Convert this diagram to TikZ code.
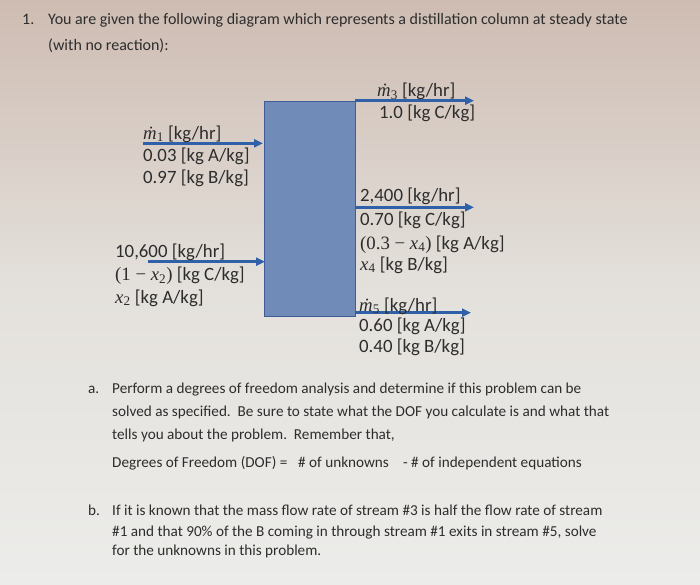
\documentclass[tikz,border=0pt]{standalone}
\usepackage{fontspec}
\setmainfont{Carlito}
\newfontfamily\mfont{Liberation Serif}
\usetikzlibrary{arrows.meta}
\definecolor{bgtop}{RGB}{206,188,178}
\definecolor{bgmid}{RGB}{228,225,220}
\definecolor{bgbot}{RGB}{236,236,234}
\definecolor{colfill}{RGB}{112,139,184}
\definecolor{coledge}{RGB}{62,92,150}
\definecolor{flow}{RGB}{48,96,168}
\definecolor{ink}{RGB}{45,45,45}
\newcommand\mdotm[1]{{\mfont\itshape\.{m}}{\mfont\textsubscript{#1}}}
\newcommand\xv[1]{{\mfont\itshape x}{\mfont\textsubscript{#1}}}
\tikzset{
  lbl/.style={anchor=base west, inner sep=0pt, text=ink, font=\fontsize{18.8}{22}\selectfont},
  hdr/.style={anchor=base west, inner sep=0pt, text=ink, font=\fontsize{16}{19}\selectfont},
  body/.style={anchor=base west, inner sep=0pt, text=ink, font=\fontsize{15.2}{18}\selectfont},
  stream/.style={draw=flow, line width=2.6pt, -{Triangle[length=9pt,width=8pt]}},
  column/.style={draw=coledge, fill=colfill, line width=1pt}
}
\begin{document}
\begin{tikzpicture}[x=1pt,y=-1pt]
\useasboundingbox (0,0) rectangle (700,584);
\shade[top color=bgtop, bottom color=bgbot, middle color=bgmid] (0,0) rectangle (700,584);

% column
\node[column, minimum width=91pt, minimum height=215pt, inner sep=0pt, anchor=north west] (col) at (264,100.5) {};

% stream coordinates
\coordinate (s1a) at (143,143.3);
\coordinate (s1b) at (263,143.3);
\coordinate (s3a) at (355,100.7);
\coordinate (s3b) at (474,100.7);
\coordinate (s4a) at (355,207.3);
\coordinate (s4b) at (474,207.3);
\coordinate (s2a) at (148,261.7);
\coordinate (s2b) at (265,261.7);
\coordinate (s5a) at (355,312.7);
\coordinate (s5b) at (471,312.7);

\draw[stream] (s1a) -- (s1b);
\draw[stream] (s3a) -- (s3b);
\draw[stream] (s4a) -- (s4b);
\draw[stream] (s2a) -- (s2b);
\draw[stream] (s5a) -- (s5b);

% header
\node[hdr] (n1) at (22,24) {1.};
\node[hdr] (t1) at (48,24) {You are given the following diagram which represents a distillation column at steady state};
\node[hdr] (t2) at (48,50) {(with no reaction):};

% stream 1
\node[lbl] (a1) at (143,139) {\mdotm{1} [kg/hr]};
\node[lbl] (a2) at (143,161.5) {0.03 [kg A/kg]};
\node[lbl] (a3) at (143,183) {0.97 [kg B/kg]};
% stream 3
\node[lbl] (b1) at (377,96.5) {\mdotm{3} [kg/hr]};
\node[lbl] (b2) at (379,118) {1.0 [kg C/kg]};
% stream 4
\node[lbl] (c1) at (360,201.5) {2,400 [kg/hr]};
\node[lbl] (c2) at (360,225.5) {0.70 [kg C/kg]};
\node[lbl] (c3) at (360,249) {{\mfont (0.3 − }\xv{4}{\mfont )} [kg A/kg]};
\node[lbl] (c4) at (360,270) {\xv{4} [kg B/kg]};
% stream 2
\node[lbl] (d1) at (115,257) {10,600 [kg/hr]};
\node[lbl] (d2) at (115,280.5) {{\mfont (1 − }\xv{2}{\mfont )} [kg C/kg]};
\node[lbl] (d3) at (115,303) {\xv{2} [kg A/kg]};
% stream 5
\node[lbl] (e1) at (359,311) {\mdotm{5} [kg/hr]};
\node[lbl] (e2) at (359,331.5) {0.60 [kg A/kg]};
\node[lbl] (e3) at (359,352) {0.40 [kg B/kg]};

% question a
\node[body] (qa) at (88,393) {a.};
\node[body] (qa1) at (112,393) {Perform a degrees of freedom analysis and determine if this problem can be};
\node[body] (qa2) at (112,416) {solved as specified.\ \ Be sure to state what the DOF you calculate is and what that};
\node[body] (qa3) at (112,439.5) {tells you about the problem.\ \ Remember that,};
\node[body] (qd1) at (112,467.5) {Degrees of Freedom (DOF) =};
\node[body] (qd2) at (298,467.5) {\# of unknowns};
\node[body] (qd3) at (403,467.5) {-};
\node[body] (qd4) at (411,467.5) {\# of independent equations};

% question b
\node[body] (qb) at (88,515) {b.};
\node[body] (qb1) at (112,515) {If it is known that the mass flow rate of stream \#3 is half the flow rate of stream};
\node[body] (qb2) at (112,536) {\#1 and that 90\% of the B coming in through stream \#1 exits in stream \#5, solve};
\node[body] (qb3) at (112,555) {for the unknowns in this problem.};
\end{tikzpicture}
\end{document}
